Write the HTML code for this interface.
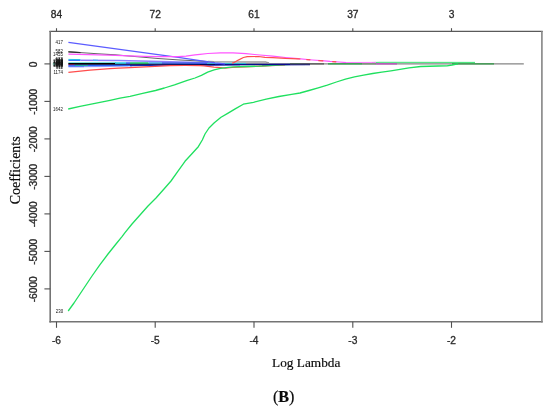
<!DOCTYPE html>
<html><head><meta charset="utf-8"><title>Figure B</title>
<style>
html,body{margin:0;padding:0;background:#fff;}
svg{display:block;}
.s{font-family:"Liberation Sans",Arial,sans-serif;font-size:10.2px;fill:#2a2a2a;stroke:#2a2a2a;stroke-width:0.32px;}
.t{font-family:"Liberation Serif","Times New Roman",serif;fill:#0a0a0a;stroke:#0a0a0a;stroke-width:0.18px;}
.l{font-family:"Liberation Sans",Arial,sans-serif;font-size:4.6px;fill:#111;}
</style></head>
<body>
<svg width="550" height="412" viewBox="0 0 550 412">
<rect width="550" height="412" fill="#fff"/>
<g>
<polyline points="68.4,63.9 523.8,63.9" fill="none" stroke="#858585" stroke-width="1.25" stroke-linejoin="round" />
<polyline points="68.4,59.4 80.5,59.6" fill="none" stroke="#22ccee" stroke-width="1.0" stroke-linejoin="round" />
<polyline points="68.4,60.4 80.5,60.4" fill="none" stroke="#3a78ff" stroke-width="1.2" stroke-linejoin="round" />
<polyline points="80.5,60.3 119.0,60.6 150.0,61.2 170.0,61.8 200.0,62.6 215.0,63.2" fill="none" stroke="#8f80ff" stroke-width="1.5" stroke-linejoin="round" />
<polyline points="93.0,60.2 98.0,60.3" fill="none" stroke="#50b8ff" stroke-width="1.3" stroke-linejoin="round" />
<polyline points="68.4,66.8 84.0,66.7" fill="none" stroke="#5a60ff" stroke-width="1.1" stroke-linejoin="round" />
<polyline points="84.0,66.7 110.0,66.4 128.0,65.8" fill="none" stroke="#b8a8ff" stroke-width="1.1" stroke-linejoin="round" />
<polyline points="68.4,65.8 110.0,65.6 132.0,65.5" fill="none" stroke="#2a70ff" stroke-width="1.5" stroke-linejoin="round" />
<polyline points="130.0,65.4 170.0,65.0 215.0,64.8 240.0,64.6" fill="none" stroke="#1428b8" stroke-width="1.5" stroke-linejoin="round" />
<polyline points="75.0,65.5 88.0,65.5" fill="none" stroke="#20c0a0" stroke-width="1.0" stroke-linejoin="round" />
<polyline points="68.4,62.8 116.0,62.7" fill="none" stroke="#30d0c0" stroke-width="0.8" stroke-linejoin="round" />
<polyline points="68.4,64.7 74.5,64.6" fill="none" stroke="#e0208a" stroke-width="1.0" stroke-linejoin="round" />
<polyline points="74.5,64.7 200.0,64.7" fill="none" stroke="#1a1ab0" stroke-width="0.8" stroke-linejoin="round" />
<polyline points="200.0,64.7 310.0,64.5" fill="none" stroke="#0a0a90" stroke-width="1.5" stroke-linejoin="round" />
<polyline points="68.4,63.8 115.0,63.8" fill="none" stroke="#000" stroke-width="1.4" stroke-linejoin="round" />
<polyline points="115.0,64.0 215.0,64.0" fill="none" stroke="#000" stroke-width="0.9" stroke-linejoin="round" />
<polyline points="115.0,63.0 126.0,63.0" fill="none" stroke="#20d0e8" stroke-width="1.5" stroke-linejoin="round" />
<polyline points="126.0,63.0 130.0,63.0" fill="none" stroke="#3060ff" stroke-width="1.5" stroke-linejoin="round" />
<polyline points="130.0,63.0 148.5,63.0" fill="none" stroke="#10c468" stroke-width="1.5" stroke-linejoin="round" />
<polyline points="148.5,63.0 162.0,63.0" fill="none" stroke="#38a0e8" stroke-width="1.5" stroke-linejoin="round" />
<polyline points="162.0,63.0 215.0,63.2" fill="none" stroke="#3858e8" stroke-width="1.4" stroke-linejoin="round" />
<polyline points="208.0,61.6 214.0,61.8 266.0,62.1 269.0,63.0" fill="none" stroke="#9a9a9a" stroke-width="1.5" stroke-linejoin="round" />
<polyline points="68.4,51.8 97.5,53.7 115.0,54.9 126.0,55.8 143.6,57.3 158.0,58.5 180.0,60.0 195.0,60.8 208.0,61.6" fill="none" stroke="#666" stroke-width="1.15" stroke-linejoin="round" />
<polyline points="68.4,51.8 80.5,52.6" fill="none" stroke="#333" stroke-width="1.2" stroke-linejoin="round" />
<polyline points="207.0,63.4 246.0,63.4" fill="none" stroke="#30b8d0" stroke-width="1.0" stroke-linejoin="round" />
<polyline points="68.4,72.3 90.0,70.1 110.0,68.7 119.0,68.2 130.0,67.6 150.0,66.6 170.0,65.7 185.0,65.5 200.0,65.6 204.0,65.8 214.0,67.1 220.5,67.7 225.0,68.1 232.0,67.5 245.0,66.8 262.0,66.1 285.0,64.8" fill="none" stroke="#ff4d4d" stroke-width="1.25" stroke-linejoin="round" />
<polyline points="68.4,42.3 180.0,57.7 200.0,60.6 210.0,62.0 215.0,62.8 225.0,63.9" fill="none" stroke="#5c5cff" stroke-width="1.25" stroke-linejoin="round" />
<polyline points="68.4,54.2 108.0,55.1 144.0,56.3 160.0,56.7 178.0,56.6 186.0,56.1 195.0,54.9 200.0,54.4 207.7,53.5 220.5,52.9 233.0,52.9 246.0,53.7 254.5,54.5 260.0,55.0 272.7,56.2 285.5,57.5 298.0,58.7 312.7,60.0 324.5,60.9 330.0,61.4 339.0,62.0 346.4,62.7" fill="none" stroke="#ff55ff" stroke-width="1.25" stroke-linejoin="round" />
<polyline points="232.0,63.2 233.2,63.0 238.3,60.1 243.4,57.5 247.2,56.6 258.6,56.5 265.0,57.3 272.7,57.7 285.5,58.4 298.2,58.8 312.7,60.1 324.5,61.0 339.0,62.1 345.0,62.7" fill="none" stroke="#ff4d4d" stroke-width="1.2" stroke-linejoin="round" stroke-dasharray="70 6 4 8 5 9 4 100"/>
<polyline points="68.2,109.0 80.0,106.4 90.0,104.4 100.0,102.4 110.0,100.4 120.0,98.2 130.0,96.3 142.7,93.3 155.5,90.5 164.4,88.0 174.5,84.8 187.3,80.4 195.0,78.0 201.4,75.4 207.7,72.2 214.1,69.9 220.5,68.4 228.1,67.3 233.2,66.8 245.9,66.5 258.6,66.2 265.0,65.8 272.0,65.4 286.5,64.7 300.0,63.9" fill="none" stroke="#1fe05f" stroke-width="1.3" stroke-linejoin="round" />
<polyline points="262.0,64.6 310.0,64.4" fill="none" stroke="#0a0a90" stroke-width="1.4" stroke-linejoin="round" />
<polyline points="290.0,63.8 324.0,63.8" fill="none" stroke="#555" stroke-width="1.25" stroke-linejoin="round" />
<polyline points="328.0,63.9 362.0,63.9" fill="none" stroke="#20a040" stroke-width="1.25" stroke-linejoin="round" />
<polyline points="362.0,63.9 376.0,63.9" fill="none" stroke="#709070" stroke-width="1.25" stroke-linejoin="round" />
<polyline points="372.0,62.5 380.0,62.3 475.0,62.4" fill="none" stroke="#1fe05f" stroke-width="0.9" stroke-linejoin="round" />
<polyline points="452.0,63.9 494.0,63.9" fill="none" stroke="#2f9a45" stroke-width="1.25" stroke-linejoin="round" />
<polyline points="68.2,311.0 74.0,303.0 80.0,294.0 86.0,285.0 92.0,276.0 100.0,264.6 108.0,254.0 116.0,244.0 122.0,236.6 125.0,232.6 132.0,224.0 140.0,215.0 148.0,206.0 156.0,198.0 164.0,189.0 171.0,181.0 178.0,171.2 185.0,161.3 191.7,154.0 198.3,146.7 202.3,140.0 205.0,134.0 209.0,128.0 214.3,122.7 221.0,117.3 227.7,113.4 235.6,108.6 243.3,104.2 253.5,102.3 266.2,99.1 278.9,96.5 291.6,94.3 300.0,93.0 309.0,90.5 318.2,87.8 327.3,85.1 336.4,82.0 345.5,79.1 354.5,76.9 363.6,75.1 372.7,73.5 381.8,72.2 390.9,70.8 400.0,69.3 409.0,67.8 420.7,66.5 438.2,66.0 447.0,65.8 452.0,65.0 458.0,63.9" fill="none" stroke="#1fe05f" stroke-width="1.3" stroke-linejoin="round" />
<polyline points="346.0,62.5 376.0,62.4" fill="none" stroke="#ff78ff" stroke-width="1.0" stroke-linejoin="round" />
<polyline points="376.0,63.9 397.0,63.9" fill="none" stroke="#c040c0" stroke-width="1.2" stroke-linejoin="round" />
</g>
<g>
<line x1="49.4" y1="31.4" x2="542.7" y2="31.4" stroke="#5a5a5a" stroke-width="1.15"/>
<line x1="49.4" y1="321.8" x2="542.7" y2="321.8" stroke="#747474" stroke-width="1.45"/>
<line x1="50.2" y1="30.9" x2="50.2" y2="322.5" stroke="#747474" stroke-width="1.6"/>
<line x1="541.9" y1="30.9" x2="541.9" y2="322.5" stroke="#858585" stroke-width="1.6"/>
<line x1="56.5" y1="321.8" x2="56.5" y2="327.8" stroke="#505050" stroke-width="1.1"/>
<line x1="56.5" y1="31.3" x2="56.5" y2="28.2" stroke="#505050" stroke-width="1.1"/>
<line x1="155.2" y1="321.8" x2="155.2" y2="327.8" stroke="#505050" stroke-width="1.1"/>
<line x1="155.2" y1="31.3" x2="155.2" y2="28.2" stroke="#505050" stroke-width="1.1"/>
<line x1="254.0" y1="321.8" x2="254.0" y2="327.8" stroke="#505050" stroke-width="1.1"/>
<line x1="254.0" y1="31.3" x2="254.0" y2="28.2" stroke="#505050" stroke-width="1.1"/>
<line x1="352.8" y1="321.8" x2="352.8" y2="327.8" stroke="#505050" stroke-width="1.1"/>
<line x1="352.8" y1="31.3" x2="352.8" y2="28.2" stroke="#505050" stroke-width="1.1"/>
<line x1="451.5" y1="321.8" x2="451.5" y2="327.8" stroke="#505050" stroke-width="1.1"/>
<line x1="451.5" y1="31.3" x2="451.5" y2="28.2" stroke="#505050" stroke-width="1.1"/>
<line x1="44.4" y1="63.9" x2="50.2" y2="63.9" stroke="#505050" stroke-width="1.1"/>
<line x1="44.4" y1="101.4" x2="50.2" y2="101.4" stroke="#505050" stroke-width="1.1"/>
<line x1="44.4" y1="138.9" x2="50.2" y2="138.9" stroke="#505050" stroke-width="1.1"/>
<line x1="44.4" y1="176.4" x2="50.2" y2="176.4" stroke="#505050" stroke-width="1.1"/>
<line x1="44.4" y1="213.9" x2="50.2" y2="213.9" stroke="#505050" stroke-width="1.1"/>
<line x1="44.4" y1="251.4" x2="50.2" y2="251.4" stroke="#505050" stroke-width="1.1"/>
<line x1="44.4" y1="288.9" x2="50.2" y2="288.9" stroke="#505050" stroke-width="1.1"/>
</g>
<g>
<text x="56.5" y="343.6" text-anchor="middle" class="s">-6</text>
<text x="155.2" y="343.6" text-anchor="middle" class="s">-5</text>
<text x="254.0" y="343.6" text-anchor="middle" class="s">-4</text>
<text x="352.8" y="343.6" text-anchor="middle" class="s">-3</text>
<text x="451.5" y="343.6" text-anchor="middle" class="s">-2</text>
<text x="56.5" y="17.6" text-anchor="middle" class="s">84</text>
<text x="155.2" y="17.6" text-anchor="middle" class="s">72</text>
<text x="254.0" y="17.6" text-anchor="middle" class="s">61</text>
<text x="352.8" y="17.6" text-anchor="middle" class="s">37</text>
<text x="451.5" y="17.6" text-anchor="middle" class="s">3</text>
<text transform="translate(37.1,64.3) rotate(-90)" text-anchor="middle" class="s">0</text>
<text transform="translate(37.1,101.8) rotate(-90)" text-anchor="middle" class="s">-1000</text>
<text transform="translate(37.1,139.3) rotate(-90)" text-anchor="middle" class="s">-2000</text>
<text transform="translate(37.1,176.8) rotate(-90)" text-anchor="middle" class="s">-3000</text>
<text transform="translate(37.1,214.3) rotate(-90)" text-anchor="middle" class="s">-4000</text>
<text transform="translate(37.1,251.8) rotate(-90)" text-anchor="middle" class="s">-5000</text>
<text transform="translate(37.1,289.3) rotate(-90)" text-anchor="middle" class="s">-6000</text>
<text transform="translate(19.5,170.3) rotate(-90)" text-anchor="middle" class="t" font-size="13.95">Coefficients</text>
<text x="306.2" y="366.5" text-anchor="middle" class="t" font-size="13.3">Log Lambda</text>
<text x="283.7" y="401.9" text-anchor="middle" class="t" font-size="16.2">(<tspan font-weight="bold">B</tspan>)</text>
<text transform="translate(62.9,44.1) scale(0.96,1)" text-anchor="end" class="l">417</text>
<text transform="translate(62.9,53.2) scale(0.96,1)" text-anchor="end" class="l">582</text>
<text transform="translate(62.9,56.1) scale(0.96,1)" text-anchor="end" class="l">1455</text>
<text transform="translate(62.9,74.2) scale(0.96,1)" text-anchor="end" class="l">1174</text>
<text transform="translate(62.9,110.5) scale(0.96,1)" text-anchor="end" class="l">1642</text>
<text transform="translate(63.2,312.9) scale(0.96,1)" text-anchor="end" class="l">230</text>
<text transform="translate(62.9,61.0) scale(0.96,1)" text-anchor="end" class="l">688</text>
<text transform="translate(62.9,62.0) scale(0.96,1)" text-anchor="end" class="l">844</text>
<text transform="translate(62.9,62.9) scale(0.96,1)" text-anchor="end" class="l">1388</text>
<text transform="translate(62.9,63.4) scale(0.96,1)" text-anchor="end" class="l">203</text>
<text transform="translate(62.9,63.9) scale(0.96,1)" text-anchor="end" class="l">1288</text>
<text transform="translate(62.9,64.4) scale(0.96,1)" text-anchor="end" class="l">1866</text>
<text transform="translate(62.9,64.8) scale(0.96,1)" text-anchor="end" class="l">983</text>
<text transform="translate(62.9,65.2) scale(0.96,1)" text-anchor="end" class="l">1380</text>
<text transform="translate(62.9,65.7) scale(0.96,1)" text-anchor="end" class="l">1608</text>
<text transform="translate(62.9,66.2) scale(0.96,1)" text-anchor="end" class="l">1086</text>
<text transform="translate(62.9,66.7) scale(0.96,1)" text-anchor="end" class="l">918</text>
<text transform="translate(62.9,67.2) scale(0.96,1)" text-anchor="end" class="l">1806</text>
<text transform="translate(62.9,67.9) scale(0.96,1)" text-anchor="end" class="l">638</text>
<text transform="translate(62.9,69.2) scale(0.96,1)" text-anchor="end" class="l">311</text>
<rect x="52.8" y="62.8" width="1.8" height="2.4" fill="#5aa08a" opacity="0.7"/>
</g>
</svg>
</body></html>
